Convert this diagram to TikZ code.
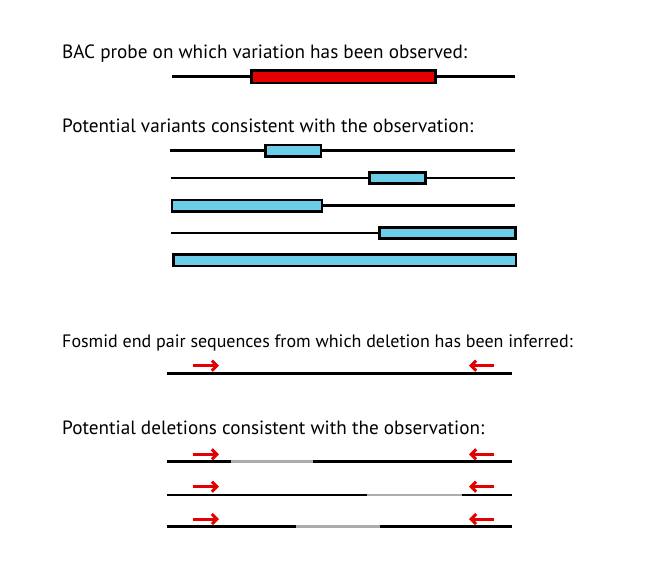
\documentclass[tikz,border=0pt]{standalone}
\usepackage{fontspec}
\setmainfont{PT Sans}
\usetikzlibrary{arrows.meta}
\definecolor{bacred}{RGB}{228,0,0}
\definecolor{varblue}{RGB}{108,205,232}
\definecolor{delgray}{RGB}{172,172,172}
\begin{document}
\begin{tikzpicture}[x=1pt,y=-1pt,
  title/.style={anchor=base west, inner sep=0pt, font=\fontsize{19.2}{22}\selectfont},
  seq/.style={line width=2.7pt, black},
  gapline/.style={line width=2.7pt, delgray},
  boxbase/.style={draw=black, line width=2.6pt, inner sep=0pt, rectangle, minimum height=11.5pt},
  bacbox/.style={boxbase, fill=bacred},
  varbox/.style={boxbase, fill=varblue},
  primer/.style={line width=3pt, bacred, -{Straight Barb[length=5pt,width=10pt]}}]
\useasboundingbox (0,0) rectangle (650,587);
% titles
\node[title] (t1) at (62,58) {BAC probe on which variation has been observed:};
\node[title] (t2) at (62,132.5) {Potential variants consistent with the observation:};
\node[title, font=\fontsize{18}{22}\selectfont] (t3) at (62,347.3) {Fosmid end pair sequences from which deletion has been inferred:};
\node[title] (t4) at (62,434.8) {Potential deletions consistent with the observation:};
% BAC probe
\coordinate (b0) at (172,76.7);
\coordinate (b1) at (515,76.7);
\node[bacbox, minimum width=184.5pt, minimum height=12.2pt] (bac) at (343.5,76.7) {};
\draw[seq] (b0) -- (bac.west);
\draw[seq] (bac.east) -- (b1);
% variants
\coordinate (v1l) at (170,150.8); \coordinate (v1r) at (515,150.8);
\node[varbox, minimum width=55.5pt] (v1) at (293.3,150.8) {};
\draw[seq] (v1l) -- (v1.west); \draw[seq] (v1.east) -- (v1r);
\coordinate (v2l) at (171,178); \coordinate (v2r) at (515,178);
\node[varbox, minimum width=55.9pt] (v2) at (397.5,178) {};
\draw[seq] (v2l) -- (v2.west); \draw[seq] (v2.east) -- (v2r);
\coordinate (v3r) at (515,205.8);
\node[varbox, minimum width=150.1pt] (v3) at (247,205.8) {};
\draw[seq] (v3.east) -- (v3r);
\coordinate (v4l) at (171,233);
\node[varbox, minimum width=135.9pt] (v4) at (447.5,233) {};
\draw[seq] (v4l) -- (v4.west);
\node[varbox, minimum width=342.5pt] (v5) at (344.8,260.3) {};
% fosmid
\coordinate (f0) at (167,373.3); \coordinate (f1) at (512,373.3);
\draw[seq] (f0) -- (f1);
\coordinate (fa0) at (193,365.7); \coordinate (fa1) at (219,365.7);
\coordinate (fb0) at (494,365.7); \coordinate (fb1) at (469,365.7);
\draw[primer] (fa0) -- (fa1);
\draw[primer] (fb0) -- (fb1);
% deletions
\foreach \y/\ya/\da/\db/\n in {461.7/454.3/231/313.3/1, 495/486.7/366.7/461.7/2, 526.7/519/295.7/380/3}{
  \coordinate (d\n s) at (167,\y);
  \coordinate (d\n a) at (\da,\y);
  \coordinate (d\n b) at (\db,\y);
  \coordinate (d\n e) at (512,\y);
  \draw[seq] (d\n s) -- (d\n a);
  \draw[gapline] (d\n a) -- (d\n b);
  \draw[seq] (d\n b) -- (d\n e);
  \coordinate (p\n a) at (193,\ya); \coordinate (p\n b) at (219,\ya);
  \coordinate (q\n a) at (494,\ya); \coordinate (q\n b) at (469,\ya);
  \draw[primer] (p\n a) -- (p\n b);
  \draw[primer] (q\n a) -- (q\n b);
}
\end{tikzpicture}
\end{document}
